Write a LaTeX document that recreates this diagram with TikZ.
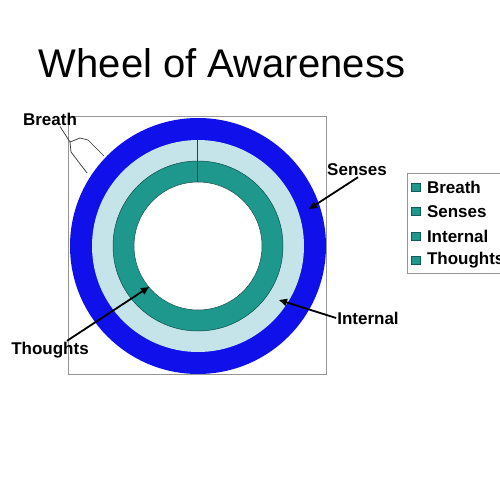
\documentclass[tikz,border=0pt]{standalone}
\usepackage{fontspec}
\setmainfont{Liberation Sans}
\usetikzlibrary{arrows.meta}
\definecolor{ringblue}{RGB}{16,16,235}
\definecolor{ringlight}{RGB}{196,228,234}
\definecolor{ringteal}{RGB}{30,152,140}
\definecolor{framegray}{RGB}{150,150,150}
\tikzset{
  lbl/.style={font=\fontsize{17}{20}\selectfont\bfseries, inner sep=1pt},
  arr/.style={line width=1.8pt, -{Triangle[length=8pt,width=7pt]}},
  legmark/.style={fill=ringteal, draw=ringteal!60!black, line width=0.6pt, minimum width=9pt, minimum height=8pt, inner sep=0pt},
  edge/.style={draw=ringteal!50!black, line width=0.5pt}
}
\begin{document}
\begin{tikzpicture}[x=1pt,y=-1pt]
\useasboundingbox (0,0) rectangle (500,500);
\fill[white] (0,0) rectangle (500,500);
% frame
\draw[framegray, line width=0.8pt] (68,116) rectangle (326,374);
% wheel
\coordinate (c) at (198,246);
\fill[ringblue] (c) circle[radius=128];
\fill[ringlight] (c) circle[radius=106];
\fill[ringteal] (c) circle[radius=85];
\fill[white] (c) circle[radius=64];
\draw[edge] (c) circle[radius=85];
\draw[edge] (c) circle[radius=64];
\draw[edge] (197,140) -- (197,182);
% title
\node[font=\fontsize{40}{46}\selectfont, anchor=base, inner sep=0pt] (title) at (222,78) {Wheel of Awareness};
% labels
\node[lbl] (breath) at (50,119) {Breath};
\node[lbl] (senses) at (357,170) {Senses};
\node[lbl] (internal) at (368,318) {Internal};
\node[lbl] (thoughts) at (50,350) {Thoughts};
% arrow tips
\coordinate (sensesTip) at (309,209);
\coordinate (internalTip) at (279,300);
\coordinate (thoughtsTip) at (149,287);
\draw[arr] ([xshift=1pt]senses.south) -- (sensesTip);
\draw[arr] (internal.west) -- (internalTip);
\draw[arr] ([xshift=17pt]thoughts.north) -- (thoughtsTip);
% breath leader
\coordinate (bA) at (70,142);
\coordinate (bU1) at (80,138);
\coordinate (bU2) at (88,140);
\coordinate (bU3) at (104,156);
\coordinate (bL1) at (71,152);
\coordinate (bL2) at (87,173);
\draw[black!80, line width=0.7pt] ([xshift=10pt]breath.south) -- (bA);
\draw[black!80, line width=0.7pt] (bU3) -- (bU2) -- (bU1) -- (bA) -- (bL1) -- (bL2);
% legend
\draw[framegray, line width=0.8pt] (407,173) -- (407,273) -- (520,273);
\draw[framegray, line width=0.8pt] (407,173) -- (520,173);
\node[legmark] (m1) at (416,187) {};
\node[legmark] (m2) at (416,211.5) {};
\node[legmark] (m3) at (416,236) {};
\node[legmark] (m4) at (416,260.5) {};
\node[lbl, anchor=west] (l1) at ([xshift=5pt]m1.east) {Breath};
\node[lbl, anchor=west] (l2) at ([xshift=5pt]m2.east) {Senses};
\node[lbl, anchor=west] (l3) at ([xshift=5pt]m3.east) {Internal};
\node[lbl, anchor=west] (l4) at ([xshift=5pt]m4.east) {Thoughts};
\end{tikzpicture}
\end{document}
